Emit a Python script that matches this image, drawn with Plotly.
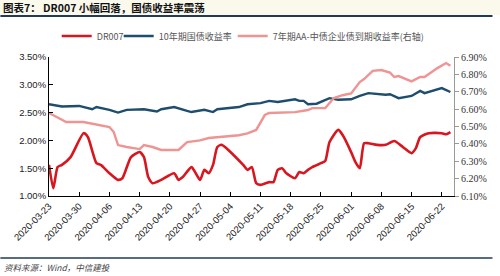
import plotly.graph_objects as go

# ---------------- data ----------------
dr007_dates = ["2020-03-23","2020-03-24","2020-03-25","2020-03-26","2020-03-28","2020-03-31",
    "2020-04-01","2020-04-03","2020-04-04","2020-04-06","2020-04-08","2020-04-09","2020-04-11",
    "2020-04-13","2020-04-14","2020-04-15","2020-04-16","2020-04-18","2020-04-21","2020-04-22",
    "2020-04-23","2020-04-25","2020-04-26","2020-04-27","2020-04-28","2020-04-29","2020-04-30",
    "2020-05-01","2020-05-02","2020-05-07","2020-05-08","2020-05-09","2020-05-10","2020-05-11",
    "2020-05-13","2020-05-14","2020-05-15","2020-05-16","2020-05-17","2020-05-19","2020-05-20",
    "2020-05-21","2020-05-22","2020-05-23","2020-05-25","2020-05-26","2020-05-27","2020-05-29",
    "2020-05-30","2020-06-01","2020-06-02","2020-06-03","2020-06-04","2020-06-05","2020-06-07",
    "2020-06-09","2020-06-11","2020-06-13","2020-06-15","2020-06-16","2020-06-17","2020-06-19",
    "2020-06-22","2020-06-23","2020-06-24"]
dr007 = [1.56,1.14,1.52,1.56,1.70,2.13,
    2.06,1.59,1.56,1.41,1.29,1.32,1.70,
    1.79,1.70,1.34,1.23,1.29,1.41,1.29,
    1.34,1.52,1.41,1.29,1.47,1.41,1.56,
    1.88,1.92,1.56,1.47,1.52,1.23,1.20,
    1.25,1.25,1.47,1.50,1.41,1.32,1.43,
    1.41,1.47,1.52,1.59,1.63,1.97,2.19,
    2.10,1.79,1.61,1.50,1.95,1.95,1.92,
    1.92,1.99,1.88,1.77,1.86,2.06,2.13,
    2.13,2.11,2.15]

cgb_dates = ["2020-03-23","2020-03-26","2020-03-30","2020-04-02","2020-04-03","2020-04-06",
    "2020-04-08","2020-04-10","2020-04-14","2020-04-17","2020-04-18","2020-04-21","2020-04-24",
    "2020-04-25","2020-04-28","2020-04-30","2020-05-01","2020-05-06","2020-05-08","2020-05-11",
    "2020-05-13","2020-05-15","2020-05-19","2020-05-20","2020-05-21","2020-05-22","2020-05-24",
    "2020-05-25","2020-05-27","2020-05-29","2020-06-01","2020-06-03","2020-06-05","2020-06-09",
    "2020-06-10","2020-06-12","2020-06-15","2020-06-17","2020-06-18","2020-06-22","2020-06-24"]
cgb10 = [2.65,2.61,2.62,2.56,2.60,2.55,
    2.50,2.55,2.56,2.52,2.56,2.60,2.53,
    2.51,2.55,2.51,2.56,2.60,2.65,2.67,
    2.71,2.69,2.74,2.71,2.71,2.65,2.66,
    2.69,2.76,2.73,2.74,2.80,2.85,2.82,
    2.83,2.76,2.80,2.89,2.85,2.94,2.87]

corp_dates = ["2020-03-23","2020-03-27","2020-03-31","2020-04-06","2020-04-07","2020-04-08",
    "2020-04-10","2020-04-13","2020-04-14","2020-04-16","2020-04-18","2020-04-22","2020-04-24",
    "2020-04-27","2020-04-29","2020-05-06","2020-05-08","2020-05-09","2020-05-10","2020-05-12",
    "2020-05-13","2020-05-19","2020-05-22","2020-05-23","2020-05-26","2020-05-28","2020-05-30",
    "2020-06-01","2020-06-03","2020-06-04","2020-06-06","2020-06-08","2020-06-10","2020-06-11",
    "2020-06-12","2020-06-15","2020-06-17","2020-06-18","2020-06-20","2020-06-21","2020-06-23",
    "2020-06-24"]
corp7aa = [6.578,6.526,6.526,6.497,6.468,6.393,
    6.382,6.370,6.393,6.382,6.365,6.365,6.410,
    6.420,6.434,6.450,6.460,6.468,6.480,6.566,
    6.578,6.583,6.595,6.606,6.606,6.664,6.680,
    6.690,6.756,6.773,6.820,6.825,6.810,6.785,
    6.790,6.760,6.785,6.785,6.820,6.836,6.865,
    6.850]

left_ticks = [1.0, 1.5, 2.0, 2.5, 3.0, 3.5]
right_ticks = [6.1, 6.2, 6.3, 6.4, 6.5, 6.6, 6.7, 6.8, 6.9]

title_text = "<b>图表7： DR007 小幅回落，国债收益率震荡</b>"
source_text = "<i>资料来源：Wind，中信建投</i>"
names = ["DR007", "10年期国债收益率", "7年期AA-中债企业债到期收益率(右轴)"]

# ---------------- figure ----------------
RED = "#D8161F"
BLUE = "#1E4D6E"
PINK = "#EE9493"

fig = go.Figure()
fig.add_trace(go.Scatter(x=dr007_dates, y=dr007, name=names[0], mode="lines", legend="legend",
                         line=dict(color=RED, width=2.6, shape="spline", smoothing=0.6)))
fig.add_trace(go.Scatter(x=cgb_dates, y=cgb10, name=names[1], mode="lines", legend="legend2",
                         line=dict(color=BLUE, width=2.4)))
fig.add_trace(go.Scatter(x=corp_dates, y=corp7aa, name=names[2], mode="lines", yaxis="y2",
                         legend="legend3", line=dict(color=PINK, width=2.4)))

sans = "Liberation Sans, Arial, sans-serif"
cjk = "Noto Sans CJK SC, sans-serif"

def leg(px):
    return dict(orientation="h", x=(px - 49.3) / 405, y=(196 - 36) / 139,
                xanchor="left", yanchor="middle",
                font=dict(family=cjk, size=9, color="#555555"),
                bgcolor="rgba(0,0,0,0)", itemwidth=30)

fig.update_layout(
    width=500, height=276,
    margin=dict(l=49, r=46, t=57, b=80),
    paper_bgcolor="white", plot_bgcolor="white",
    showlegend=True,
    legend=leg(57), legend2=leg(119), legend3=leg(233),
    xaxis=dict(type="date", range=["2020-03-23", "2020-06-24 20:00"],
               tick0="2020-03-23", dtick=7 * 24 * 3600 * 1000, tickformat="%Y-%m-%d",
               tickangle=-45, ticks="inside", ticklen=4, tickcolor="#000000",
               showline=True, linecolor="#000000", linewidth=1, showgrid=False, zeroline=False,
               tickfont=dict(family=sans, size=9.5, color="#222222")),
    yaxis=dict(range=[1.0, 3.5], tickvals=left_ticks,
               ticktext=[f"{v:.2f}%" for v in left_ticks],
               ticks="inside", ticklen=4, tickcolor="#000000",
               showline=True, linecolor="#000000", linewidth=1, showgrid=False, zeroline=False,
               tickfont=dict(family=sans, size=9.5, color="#222222")),
    yaxis2=dict(range=[6.1, 6.9], tickvals=right_ticks,
                ticktext=[f"{v:.2f}%" for v in right_ticks],
                overlaying="y", side="right",
                ticks="outside", ticklen=4, tickcolor="#999999",
                showline=True, linecolor="#999999", linewidth=1, showgrid=False, zeroline=False,
                tickfont=dict(family="Liberation Serif, serif", size=10, color="#333333")),
)

# header strip and rules
fig.add_shape(type="rect", xref="paper", yref="paper", x0=-0.125, x1=1.12,
              y0=(196 - 15) / 139, y1=(196 - 0) / 139,
              fillcolor="#FBF8EC", line=dict(width=0), layer="below")
fig.add_shape(type="line", xref="paper", yref="paper", x0=-0.12, x1=1.095,
              y0=(196 - 16) / 139, y1=(196 - 16) / 139,
              line=dict(color="#1F3B57", width=2.2))
fig.add_shape(type="line", xref="paper", yref="paper", x0=-0.12, x1=1.095,
              y0=(196 - 258) / 139, y1=(196 - 258) / 139,
              line=dict(color="#1F3B57", width=1.6))

fig.add_annotation(text=title_text, xref="paper", yref="paper",
                   x=(1 - 49.3) / 405, y=(196 - 7) / 139, xanchor="left", yanchor="middle",
                   showarrow=False, font=dict(family=cjk, size=10.5, color="#111111"))
fig.add_annotation(text=source_text, xref="paper", yref="paper",
                   x=(2 - 49.3) / 405, y=(196 - 267) / 139, xanchor="left", yanchor="middle",
                   showarrow=False, font=dict(family=cjk, size=8.5, color="#444444"))

fig.write_html("out.html")
